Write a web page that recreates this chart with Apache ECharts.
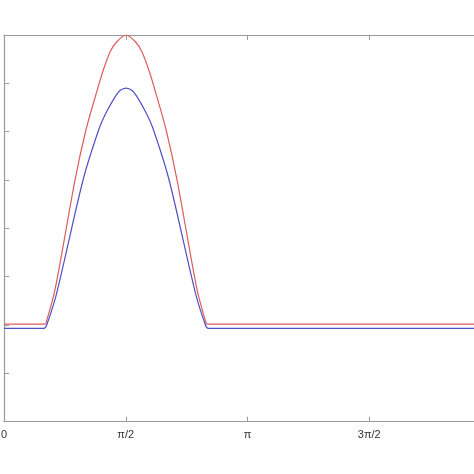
<!DOCTYPE html>
<html>
<head>
<meta charset="utf-8">
<script src="https://cdn.jsdelivr.net/npm/echarts@6/dist/echarts.min.js"></script>
<style>
    html, body { margin: 0; padding: 0; background: #fff; }
    #chart { width: 474px; height: 474px; }
</style>
</head>
<body>
<div id="chart"></div>
<script>
    // x in radians, y on an unlabeled 0..8 scale
    var redX = [0, 0.529, 0.542, 0.658, 0.916, 1.058, 1.197, 1.274, 1.368, 1.455, 1.575,
                1.695, 1.781, 1.876, 1.953, 2.091, 2.233, 2.491, 2.607, 2.620, 6.2832];
    var redY = [2.02, 2.02, 2.04, 2.73, 5.00, 6.04, 6.83, 7.24, 7.65, 7.86, 8.00,
                7.86, 7.65, 7.24, 6.83, 6.04, 5.00, 2.73, 2.04, 2.02, 2.02];

    var blueX = [0, 0.516, 0.551, 0.680, 1.020, 1.222, 1.317, 1.437, 1.497, 1.575,
                 1.653, 1.713, 1.833, 1.928, 2.130, 2.470, 2.599, 2.634, 6.2832];
    var blueY = [1.93, 1.93, 2.00, 2.66, 5.00, 6.04, 6.39, 6.73, 6.85, 6.90,
                 6.85, 6.73, 6.39, 6.04, 5.00, 2.66, 2.00, 1.93, 1.93];

    var tickLabels = ['0', 'π/2', 'π', '3π/2', '2π'];

    var pairs = function (xs, ys) {
        var out = [];
        for (var i = 0; i < xs.length; i++) {
            out.push([xs[i], ys[i]]);
        }
        return out;
    };

    var frame = { show: true, onZero: false, lineStyle: { color: '#9a9a9a', width: 1.2 } };
    var ticks = { show: true, inside: true, length: 5, lineStyle: { color: '#9a9a9a' } };

    var chart = echarts.init(document.getElementById('chart'));
    chart.setOption({
        animation: false,
        // the frame runs past the right edge of the window, as in the picture
        grid: { left: 4, top: 35, height: 386.7, width: 487, containLabel: false, outerBoundsMode: 'none' },
        xAxis: [{
            type: 'value',
            min: 0,
            max: 2 * Math.PI,
            interval: Math.PI / 2,
            position: 'bottom',
            axisLine: frame,
            axisTick: ticks,
            splitLine: { show: false },
            axisLabel: {
                color: '#333',
                fontSize: 11,
                fontFamily: 'Liberation Sans',
                margin: 8,
                formatter: function (v) {
                    return tickLabels[Math.round(v / (Math.PI / 2))];
                }
            }
        }, {
            type: 'value',
            min: 0,
            max: 2 * Math.PI,
            interval: Math.PI / 2,
            position: 'top',
            axisLine: frame,
            axisTick: ticks,
            splitLine: { show: false },
            axisLabel: { show: false }
        }],
        yAxis: [{
            type: 'value',
            min: 0,
            max: 8,
            interval: 1,
            position: 'left',
            axisLine: frame,
            axisTick: ticks,
            splitLine: { show: false },
            axisLabel: { show: false }
        }, {
            type: 'value',
            min: 0,
            max: 8,
            interval: 1,
            position: 'right',
            axisLine: frame,
            axisTick: ticks,
            splitLine: { show: false },
            axisLabel: { show: false }
        }],
        series: [{
            type: 'line',
            data: pairs(redX, redY),
            showSymbol: false,
            smooth: 0.3,
            lineStyle: { color: '#dd5c5c', width: 1.2, join: 'round' }
        }, {
            type: 'line',
            data: pairs(blueX, blueY),
            showSymbol: false,
            smooth: 0.3,
            lineStyle: { color: '#4f4fc6', width: 1.2, join: 'round' }
        }]
    });
</script>
</body>
</html>
